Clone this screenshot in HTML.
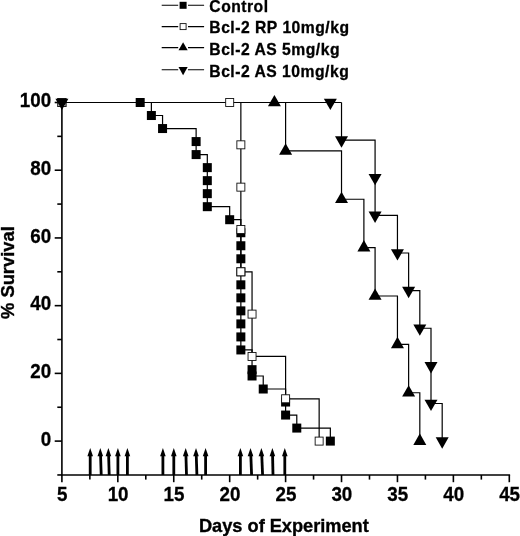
<!DOCTYPE html>
<html lang="en"><head><meta charset="utf-8"><title>Survival chart</title>
<style>html,body{margin:0;padding:0;background:#fff}svg{display:block}text{font-family:"Liberation Sans",sans-serif;font-weight:bold;fill:#000}</style></head><body>
<svg width="520" height="536" viewBox="0 0 520 536">
<rect width="520" height="536" fill="#fff"/>
<g stroke="#000" stroke-width="1.6" fill="none" stroke-linecap="butt">
<path d="M61.9 102.50V475.0"/>
<path d="M61.1 475.0H510.10"/>
<path d="M61.90 475.0v7.2"/>
<path d="M89.86 475.0v4.6"/>
<path d="M117.83 475.0v7.2"/>
<path d="M145.79 475.0v4.6"/>
<path d="M173.75 475.0v7.2"/>
<path d="M201.71 475.0v4.6"/>
<path d="M229.68 475.0v7.2"/>
<path d="M257.64 475.0v4.6"/>
<path d="M285.60 475.0v7.2"/>
<path d="M313.56 475.0v4.6"/>
<path d="M341.52 475.0v7.2"/>
<path d="M369.49 475.0v4.6"/>
<path d="M397.45 475.0v7.2"/>
<path d="M425.41 475.0v4.6"/>
<path d="M453.38 475.0v7.2"/>
<path d="M481.34 475.0v4.6"/>
<path d="M509.30 475.0v7.2"/>
<path d="M61.9 474.96h-4.6"/>
<path d="M61.9 441.10h-7.2"/>
<path d="M61.9 407.24h-4.6"/>
<path d="M61.9 373.38h-7.2"/>
<path d="M61.9 339.52h-4.6"/>
<path d="M61.9 305.66h-7.2"/>
<path d="M61.9 271.80h-4.6"/>
<path d="M61.9 237.94h-7.2"/>
<path d="M61.9 204.08h-4.6"/>
<path d="M61.9 170.22h-7.2"/>
<path d="M61.9 136.36h-4.6"/>
<path d="M61.9 102.50h-7.2"/>
</g>
<text transform="translate(62.20 500.8) scale(0.94 1)" font-size="20" text-anchor="middle" stroke="#000" stroke-width="0.3">5</text>
<text transform="translate(118.12 500.8) scale(0.94 1)" font-size="20" text-anchor="middle" stroke="#000" stroke-width="0.3">10</text>
<text transform="translate(174.05 500.8) scale(0.94 1)" font-size="20" text-anchor="middle" stroke="#000" stroke-width="0.3">15</text>
<text transform="translate(229.98 500.8) scale(0.94 1)" font-size="20" text-anchor="middle" stroke="#000" stroke-width="0.3">20</text>
<text transform="translate(285.90 500.8) scale(0.94 1)" font-size="20" text-anchor="middle" stroke="#000" stroke-width="0.3">25</text>
<text transform="translate(341.82 500.8) scale(0.94 1)" font-size="20" text-anchor="middle" stroke="#000" stroke-width="0.3">30</text>
<text transform="translate(397.75 500.8) scale(0.94 1)" font-size="20" text-anchor="middle" stroke="#000" stroke-width="0.3">35</text>
<text transform="translate(453.68 500.8) scale(0.94 1)" font-size="20" text-anchor="middle" stroke="#000" stroke-width="0.3">40</text>
<text transform="translate(509.60 500.8) scale(0.94 1)" font-size="20" text-anchor="middle" stroke="#000" stroke-width="0.3">45</text>
<text transform="translate(51.1 445.80) scale(0.94 1)" font-size="20" text-anchor="end" stroke="#000" stroke-width="0.3">0</text>
<text transform="translate(51.1 378.08) scale(0.94 1)" font-size="20" text-anchor="end" stroke="#000" stroke-width="0.3">20</text>
<text transform="translate(51.1 310.36) scale(0.94 1)" font-size="20" text-anchor="end" stroke="#000" stroke-width="0.3">40</text>
<text transform="translate(51.1 242.64) scale(0.94 1)" font-size="20" text-anchor="end" stroke="#000" stroke-width="0.3">60</text>
<text transform="translate(51.1 174.92) scale(0.94 1)" font-size="20" text-anchor="end" stroke="#000" stroke-width="0.3">80</text>
<text transform="translate(51.1 107.20) scale(0.94 1)" font-size="20" text-anchor="end" stroke="#000" stroke-width="0.3">100</text>
<text x="283.9" y="532" font-size="18.2" text-anchor="middle" stroke="#000" stroke-width="0.35">Days of Experiment</text>
<text transform="translate(13.8 272.6) rotate(-90)" font-size="18.35" text-anchor="middle" stroke="#000" stroke-width="0.35">% Survival</text>
<path d="M61.9 102.50H341.52" fill="none" stroke="#000" stroke-width="1.2"/>
<path d="M151.38 102.50V115.52H162.56V128.55H196.12V141.57H196.12V154.59H207.31V167.62H207.31V180.64H207.31V193.66H207.31V206.68H229.68V219.71H240.86V232.73H240.86V245.75H240.86V258.78H240.86V271.80H240.86V284.82H240.86V297.85H240.86V310.87H240.86V323.89H240.86V336.92H240.86V349.94H252.05V369.66H252.05V375.98H263.23V389.01H285.60V402.03H285.60V415.05H296.79V428.08H330.34V441.10" fill="none" stroke="#000" stroke-width="1.2" stroke-linejoin="miter"/>
<path d="M240.86 102.50V144.82H240.86V187.15H240.86V229.48H240.86V271.80H252.05V314.12H252.05V356.45H285.60V398.78H319.15V441.10" fill="none" stroke="#000" stroke-width="1.2" stroke-linejoin="miter"/>
<path d="M285.60 102.50V150.87H341.52V199.24H363.89V247.61H375.08V295.99H397.45V344.36H408.63V392.73H419.82V441.10" fill="none" stroke="#000" stroke-width="1.2" stroke-linejoin="miter"/>
<path d="M341.52 102.50V140.12H375.08V177.74H375.08V215.37H397.45V252.99H408.63V290.61H419.82V328.23H431.00V365.86H431.00V403.48H442.19V441.10" fill="none" stroke="#000" stroke-width="1.2" stroke-linejoin="miter"/>
<rect x="57.40" y="98.00" width="9" height="9" fill="#000"/>
<rect x="135.69" y="98.00" width="9" height="9" fill="#000"/>
<rect x="146.88" y="111.02" width="9" height="9" fill="#000"/>
<rect x="158.06" y="124.05" width="9" height="9" fill="#000"/>
<rect x="191.62" y="137.07" width="9" height="9" fill="#000"/>
<rect x="191.62" y="150.09" width="9" height="9" fill="#000"/>
<rect x="202.81" y="163.12" width="9" height="9" fill="#000"/>
<rect x="202.81" y="176.14" width="9" height="9" fill="#000"/>
<rect x="202.81" y="189.16" width="9" height="9" fill="#000"/>
<rect x="202.81" y="202.18" width="9" height="9" fill="#000"/>
<rect x="225.18" y="215.21" width="9" height="9" fill="#000"/>
<rect x="236.36" y="228.23" width="9" height="9" fill="#000"/>
<rect x="236.36" y="241.25" width="9" height="9" fill="#000"/>
<rect x="236.36" y="254.28" width="9" height="9" fill="#000"/>
<rect x="236.36" y="267.30" width="9" height="9" fill="#000"/>
<rect x="236.36" y="280.32" width="9" height="9" fill="#000"/>
<rect x="236.36" y="293.35" width="9" height="9" fill="#000"/>
<rect x="236.36" y="306.37" width="9" height="9" fill="#000"/>
<rect x="236.36" y="319.39" width="9" height="9" fill="#000"/>
<rect x="236.36" y="332.42" width="9" height="9" fill="#000"/>
<rect x="236.36" y="345.44" width="9" height="9" fill="#000"/>
<rect x="247.55" y="365.16" width="9" height="9" fill="#000"/>
<rect x="247.55" y="371.48" width="9" height="9" fill="#000"/>
<rect x="258.73" y="384.51" width="9" height="9" fill="#000"/>
<rect x="281.10" y="397.53" width="9" height="9" fill="#000"/>
<rect x="281.10" y="410.55" width="9" height="9" fill="#000"/>
<rect x="292.29" y="423.58" width="9" height="9" fill="#000"/>
<rect x="325.84" y="436.60" width="9" height="9" fill="#000"/>
<rect x="57.90" y="98.50" width="8" height="8" fill="#fff" stroke="#111" stroke-width="0.9"/>
<rect x="225.68" y="98.50" width="8" height="8" fill="#fff" stroke="#111" stroke-width="0.9"/>
<rect x="236.86" y="140.82" width="8" height="8" fill="#fff" stroke="#111" stroke-width="0.9"/>
<rect x="236.86" y="183.15" width="8" height="8" fill="#fff" stroke="#111" stroke-width="0.9"/>
<rect x="236.86" y="225.48" width="8" height="8" fill="#fff" stroke="#111" stroke-width="0.9"/>
<rect x="236.86" y="267.80" width="8" height="8" fill="#fff" stroke="#111" stroke-width="0.9"/>
<rect x="248.05" y="310.12" width="8" height="8" fill="#fff" stroke="#111" stroke-width="0.9"/>
<rect x="248.05" y="352.45" width="8" height="8" fill="#fff" stroke="#111" stroke-width="0.9"/>
<rect x="281.60" y="394.78" width="8" height="8" fill="#fff" stroke="#111" stroke-width="0.9"/>
<rect x="315.15" y="437.10" width="8" height="8" fill="#fff" stroke="#111" stroke-width="0.9"/>
<path d="M267.92 106.30H280.92L274.42 94.90Z" fill="#000"/>
<path d="M279.10 154.67H292.10L285.60 143.27Z" fill="#000"/>
<path d="M335.02 203.04H348.02L341.52 191.64Z" fill="#000"/>
<path d="M357.39 251.41H370.39L363.89 240.01Z" fill="#000"/>
<path d="M368.58 299.79H381.58L375.08 288.39Z" fill="#000"/>
<path d="M390.95 348.16H403.95L397.45 336.76Z" fill="#000"/>
<path d="M402.13 396.53H415.13L408.63 385.13Z" fill="#000"/>
<path d="M413.32 444.90H426.32L419.82 433.50Z" fill="#000"/>
<path d="M55.40 98.70H68.40L61.90 110.10Z" fill="#000"/>
<path d="M323.84 98.70H336.84L330.34 110.10Z" fill="#000"/>
<path d="M335.02 136.32H348.02L341.52 147.72Z" fill="#000"/>
<path d="M368.58 173.94H381.58L375.08 185.34Z" fill="#000"/>
<path d="M368.58 211.57H381.58L375.08 222.97Z" fill="#000"/>
<path d="M390.95 249.19H403.95L397.45 260.59Z" fill="#000"/>
<path d="M402.13 286.81H415.13L408.63 298.21Z" fill="#000"/>
<path d="M413.32 324.43H426.32L419.82 335.83Z" fill="#000"/>
<path d="M424.50 362.06H437.50L431.00 373.46Z" fill="#000"/>
<path d="M424.50 399.68H437.50L431.00 411.08Z" fill="#000"/>
<path d="M435.69 437.30H448.69L442.19 448.70Z" fill="#000"/>
<path d="M90.2 475.0L90.20 454" stroke="#000" stroke-width="2.8" fill="none"/>
<path d="M90.20 448l2.8 8.2h-5.6z" fill="#000"/>
<path d="M101.2 475.0L100.53 454" stroke="#000" stroke-width="2.8" fill="none"/>
<path d="M100.30 448l2.8 8.2h-5.6z" fill="#000"/>
<path d="M109.2 475.0L108.60 454" stroke="#000" stroke-width="2.8" fill="none"/>
<path d="M108.40 448l2.8 8.2h-5.6z" fill="#000"/>
<path d="M117.9 475.0L117.90 454" stroke="#000" stroke-width="2.8" fill="none"/>
<path d="M117.90 448l2.8 8.2h-5.6z" fill="#000"/>
<path d="M127.4 475.0L127.40 454" stroke="#000" stroke-width="2.8" fill="none"/>
<path d="M127.40 448l2.8 8.2h-5.6z" fill="#000"/>
<path d="M162.9 475.0L162.90 454" stroke="#000" stroke-width="2.8" fill="none"/>
<path d="M162.90 448l2.8 8.2h-5.6z" fill="#000"/>
<path d="M173.8 475.0L173.80 454" stroke="#000" stroke-width="2.8" fill="none"/>
<path d="M173.80 448l2.8 8.2h-5.6z" fill="#000"/>
<path d="M186.5 475.0L185.90 454" stroke="#000" stroke-width="2.8" fill="none"/>
<path d="M185.70 448l2.8 8.2h-5.6z" fill="#000"/>
<path d="M196.9 475.0L196.22 454" stroke="#000" stroke-width="2.8" fill="none"/>
<path d="M196.00 448l2.8 8.2h-5.6z" fill="#000"/>
<path d="M205.6 475.0L205.60 454" stroke="#000" stroke-width="2.8" fill="none"/>
<path d="M205.60 448l2.8 8.2h-5.6z" fill="#000"/>
<path d="M240.4 475.0L240.40 454" stroke="#000" stroke-width="2.8" fill="none"/>
<path d="M240.40 448l2.8 8.2h-5.6z" fill="#000"/>
<path d="M251.6 475.0L250.78 454" stroke="#000" stroke-width="2.8" fill="none"/>
<path d="M250.50 448l2.8 8.2h-5.6z" fill="#000"/>
<path d="M262.6 475.0L261.70 454" stroke="#000" stroke-width="2.8" fill="none"/>
<path d="M261.40 448l2.8 8.2h-5.6z" fill="#000"/>
<path d="M273.0 475.0L272.55 454" stroke="#000" stroke-width="2.8" fill="none"/>
<path d="M272.40 448l2.8 8.2h-5.6z" fill="#000"/>
<path d="M284.8 475.0L284.80 454" stroke="#000" stroke-width="2.8" fill="none"/>
<path d="M284.80 448l2.8 8.2h-5.6z" fill="#000"/>
<path d="M161.7 5.3H178.2M188 5.3H204.1" stroke="#000" stroke-width="1.1"/>
<rect x="179.60" y="1.80" width="7" height="7" fill="#000"/>
<text transform="translate(209.3 12.35)" font-size="15.7" letter-spacing="0.5" stroke="#000" stroke-width="0.3">Control</text>
<path d="M161.7 26.6H178.2M188 26.6H204.1" stroke="#000" stroke-width="1.1"/>
<rect x="180.10" y="23.60" width="6" height="6" fill="#fff" stroke="#111" stroke-width="0.9"/>
<text transform="translate(209.3 32.75)" font-size="15.7" letter-spacing="0.5" stroke="#000" stroke-width="0.3">Bcl-2 RP 10mg/kg</text>
<path d="M161.7 47.6H178.2M188 47.6H204.1" stroke="#000" stroke-width="1.1"/>
<path d="M178.50 50.33H187.70L183.10 42.13Z" fill="#000"/>
<text transform="translate(209.3 54.65)" font-size="15.7" letter-spacing="0.5" stroke="#000" stroke-width="0.3">Bcl-2 AS 5mg/kg</text>
<path d="M161.7 69.75H178.2M188 69.75H204.1" stroke="#000" stroke-width="1.1"/>
<path d="M178.50 67.02H187.70L183.10 75.22Z" fill="#000"/>
<text transform="translate(209.3 76.55)" font-size="15.7" letter-spacing="0.5" stroke="#000" stroke-width="0.3">Bcl-2 AS 10mg/kg</text>
</svg></body></html>
